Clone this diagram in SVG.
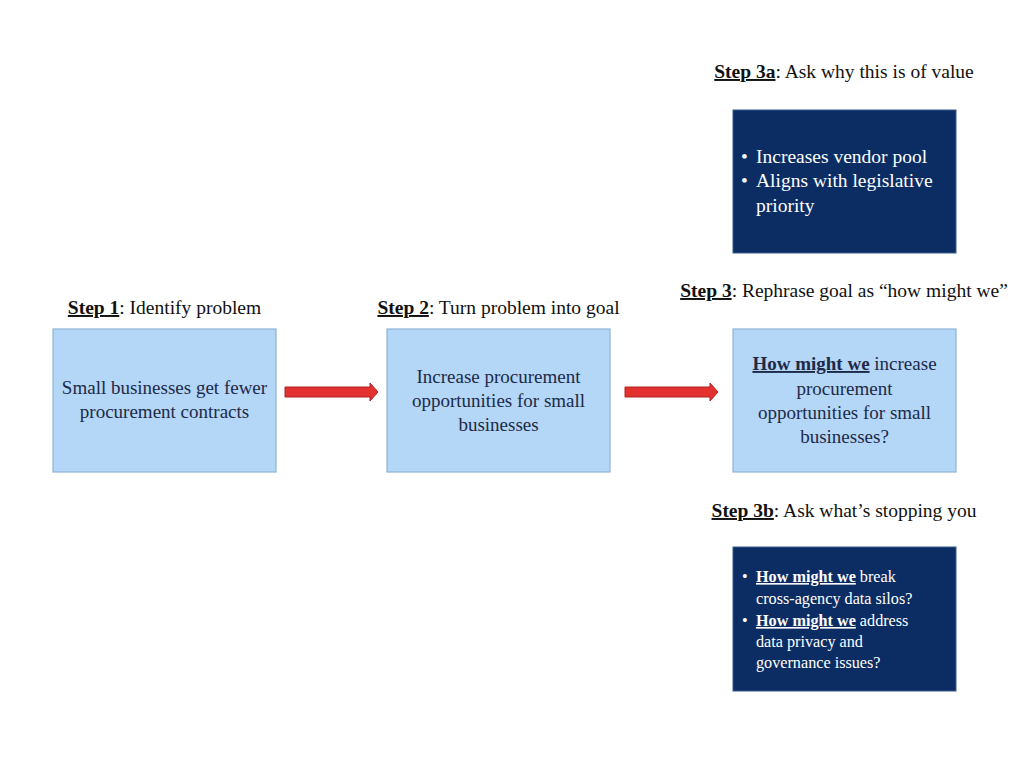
<svg xmlns="http://www.w3.org/2000/svg" width="1024" height="768" viewBox="0 0 1024 768">
<style>
text{font-family:"Liberation Serif","Times New Roman",serif;}
.lbl{font-size:19.5px;fill:#111;text-anchor:middle;}
.u{font-weight:bold;text-decoration:underline;}
.lb{fill:#b4d6f7;stroke:#8eb2d6;stroke-width:1.2;}
.db{fill:#0b2d64;stroke:#3a5a8a;stroke-width:1;}
.lt{font-size:19px;fill:#1c2a48;text-anchor:middle;}
.dt{font-size:19.5px;fill:#ffffff;}
.ds{font-size:16.2px;fill:#ffffff;}
.arr{fill:#e2312f;stroke:#b02424;stroke-width:1;}
</style>
<rect width="1024" height="768" fill="#ffffff"/>

<g id="step1">
<text class="lbl" x="164.5" y="314"><tspan class="u">Step 1</tspan>: Identify problem</text>
<rect class="lb" x="53" y="329" width="223" height="143"/>
<text class="lt" x="164.5" y="394">Small businesses get fewer</text>
<text class="lt" x="164.5" y="418">procurement contracts</text>
</g>

<g id="step2">
<text class="lbl" x="498.5" y="314"><tspan class="u">Step 2</tspan>: Turn problem into goal</text>
<rect class="lb" x="387" y="329" width="223" height="143"/>
<text class="lt" x="498.5" y="383">Increase procurement</text>
<text class="lt" x="498.5" y="407">opportunities for small</text>
<text class="lt" x="498.5" y="431">businesses</text>
</g>

<g id="step3">
<text class="lbl" x="844" y="297"><tspan class="u">Step 3</tspan>: Rephrase goal as “how might we”</text>
<rect class="lb" x="733" y="329" width="223" height="143"/>
<text class="lt" x="844.5" y="370"><tspan class="u">How might we</tspan> increase</text>
<text class="lt" x="844.5" y="395">procurement</text>
<text class="lt" x="844.5" y="419">opportunities for small</text>
<text class="lt" x="844.5" y="443">businesses?</text>
</g>

<g id="step3a">
<text class="lbl" x="844" y="78"><tspan class="u">Step 3a</tspan>: Ask why this is of value</text>
<rect class="db" x="733" y="110" width="223" height="143"/>
<text class="dt" x="741" y="163">•</text>
<text class="dt" x="756" y="163">Increases vendor pool</text>
<text class="dt" x="741" y="187">•</text>
<text class="dt" x="756" y="187">Aligns with legislative</text>
<text class="dt" x="756" y="212">priority</text>
</g>

<g id="step3b">
<text class="lbl" x="844" y="517"><tspan class="u">Step 3b</tspan>: Ask what’s stopping you</text>
<rect class="db" x="733" y="547" width="223" height="144"/>
<text class="ds" x="742" y="582">•</text>
<text class="ds" x="756" y="582"><tspan class="u">How might we</tspan> break</text>
<text class="ds" x="756" y="604">cross-agency data silos?</text>
<text class="ds" x="742" y="626">•</text>
<text class="ds" x="756" y="626"><tspan class="u">How might we</tspan> address</text>
<text class="ds" x="756" y="647">data privacy and</text>
<text class="ds" x="756" y="668">governance issues?</text>
</g>

<g id="connectors">
<path class="arr" d="M285,387 H370 V383 L378,392 L370,401 V397 H285 Z"/>
<path class="arr" d="M625,387 H710 V383 L718,392 L710,401 V397 H625 Z"/>
</g>
</svg>
